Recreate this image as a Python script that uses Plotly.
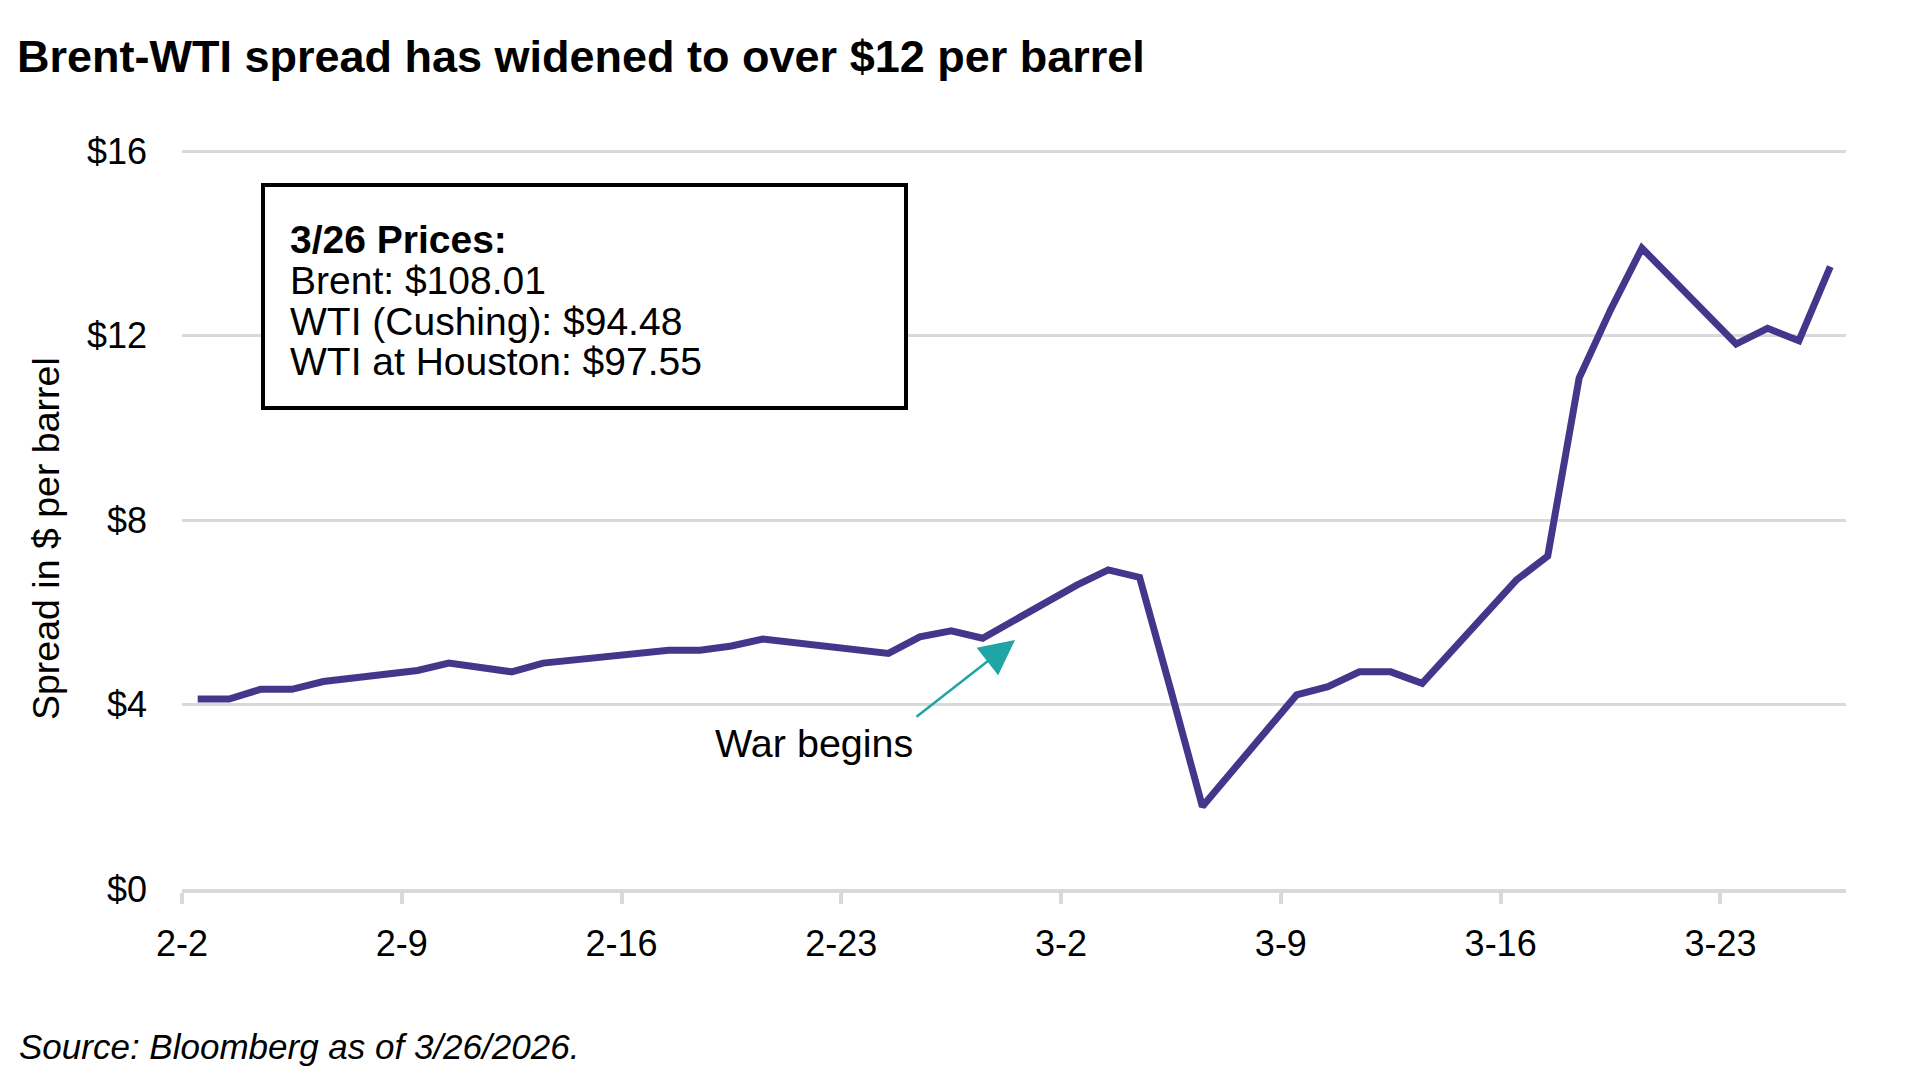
import plotly.graph_objects as go

# ---- data ----
dates = [
    "2026-02-02", "2026-02-03", "2026-02-04", "2026-02-05", "2026-02-06",
    "2026-02-09", "2026-02-10", "2026-02-12", "2026-02-13",
    "2026-02-17", "2026-02-18", "2026-02-19", "2026-02-20",
    "2026-02-24", "2026-02-25", "2026-02-26", "2026-02-27",
    "2026-03-02", "2026-03-03", "2026-03-04", "2026-03-05", "2026-03-06",
    "2026-03-09", "2026-03-10", "2026-03-11", "2026-03-12", "2026-03-13",
    "2026-03-16", "2026-03-17", "2026-03-18", "2026-03-19", "2026-03-20",
    "2026-03-23", "2026-03-24", "2026-03-25", "2026-03-26",
]
spread = [
    4.12, 4.12, 4.33, 4.33, 4.50,
    4.74, 4.90, 4.71, 4.90,
    5.18, 5.18, 5.27, 5.42,
    5.11, 5.47, 5.60, 5.44,
    6.59, 6.92, 6.76, 4.30, 1.79,
    4.21, 4.39, 4.71, 4.71, 4.46,
    6.70, 7.22, 11.08, 12.56, 13.90,
    11.82, 12.16, 11.89, 13.50,
]
tick_dates = ["2026-02-02", "2026-02-09", "2026-02-16", "2026-02-23",
              "2026-03-02", "2026-03-09", "2026-03-16", "2026-03-23"]
tick_labels = ["2-2", "2-9", "2-16", "2-23", "3-2", "3-9", "3-16", "3-23"]
y_ticks = [0, 4, 8, 12, 16]
y_tick_labels = ["$0", "$4", "$8", "$12", "$16"]

title_text = "Brent-WTI spread has widened to over $12 per barrel"
box_lines = ["<b>3/26 Prices:</b>", "Brent: $108.01",
             "WTI (Cushing): $94.48", "WTI at Houston: $97.55"]
source_text = "Source: Bloomberg as of 3/26/2026."

FONT = "Liberation Sans, Arial, Helvetica, sans-serif"
GRID = "#d9d9d9"

fig = go.Figure()
fig.add_trace(go.Scatter(
    x=dates, y=spread, mode="lines",
    xperiod=86400000, xperiodalignment="middle",
    line=dict(color="#46368B", width=7),
    hoverinfo="skip", showlegend=False,
))

# plot area: x 182..1846, y 149..889 (y=16 sits at 151)
L, R, T, B = 182, 1846, 149, 889
W, H = 1920, 1080
pw, ph = R - L, B - T


def px(x):
    return (x - L) / pw


def py(y):
    return (B - y) / ph


fig.update_layout(
    width=W, height=H,
    margin=dict(l=L, r=W - R, t=T, b=H - B, pad=0),
    paper_bgcolor="white", plot_bgcolor="white",
    font=dict(family=FONT, color="black", size=36),
    title=dict(text="<b>" + title_text + "</b>", x=17 / W, xanchor="left",
               xref="container", y=1 - 56 / H, yanchor="middle",
               yref="container",
               font=dict(family=FONT, size=45, color="black")),
)
fig.update_xaxes(
    type="date", range=["2026-02-02", "2026-03-27"],
    tickvals=tick_dates, ticktext=tick_labels,
    showgrid=False, zeroline=False,
    showline=True, linecolor=GRID, linewidth=4,
    ticks="outside", ticklen=11, tickwidth=4, tickcolor=GRID,
    tickfont=dict(family=FONT, size=36, color="black"),
    ticklabelstandoff=9,
)
fig.update_yaxes(
    range=[0, 16.05], tickvals=y_ticks, ticktext=y_tick_labels,
    showgrid=True, gridcolor=GRID, gridwidth=3,
    zeroline=False, showline=False, ticks="",
    tickfont=dict(family=FONT, size=36, color="black"),
    ticklabelstandoff=34,
)

# y-axis title
fig.add_annotation(text="Spread in $ per barrel", textangle=-90,
                   xref="paper", yref="paper", x=px(46), y=py(539),
                   xanchor="center", yanchor="middle", showarrow=False,
                   font=dict(family=FONT, size=37.5, color="black"))

# price box
fig.add_shape(type="rect", xref="paper", yref="paper",
              x0=px(263), x1=px(906), y0=py(408), y1=py(185),
              line=dict(color="black", width=4), fillcolor="white",
              layer="above")
for line_text, yc in zip(box_lines, [239, 280, 321, 361]):
    fig.add_annotation(text=line_text, xref="paper", yref="paper",
                       x=px(288), y=py(yc), xanchor="left",
                       yanchor="middle", showarrow=False,
                       font=dict(family=FONT, size=39, color="black"))

# War begins arrow + label
fig.add_annotation(text="", xref="paper", yref="paper",
                   x=px(1015), y=py(640), ax=-100, ay=78,
                   showarrow=True, arrowhead=2, arrowsize=2.8,
                   arrowwidth=2.5, arrowcolor="#1FA5A6", standoff=0)
fig.add_annotation(text="War begins", xref="paper", yref="paper",
                   x=px(814), y=py(743), xanchor="center",
                   yanchor="middle", showarrow=False,
                   font=dict(family=FONT, size=39.5, color="black"))

# source
fig.add_annotation(text="<i>" + source_text + "</i>", xref="paper",
                   yref="paper", x=px(17), y=py(1046), xanchor="left",
                   yanchor="middle", showarrow=False,
                   font=dict(family=FONT, size=35, color="black"))

fig.write_html("out.html")
